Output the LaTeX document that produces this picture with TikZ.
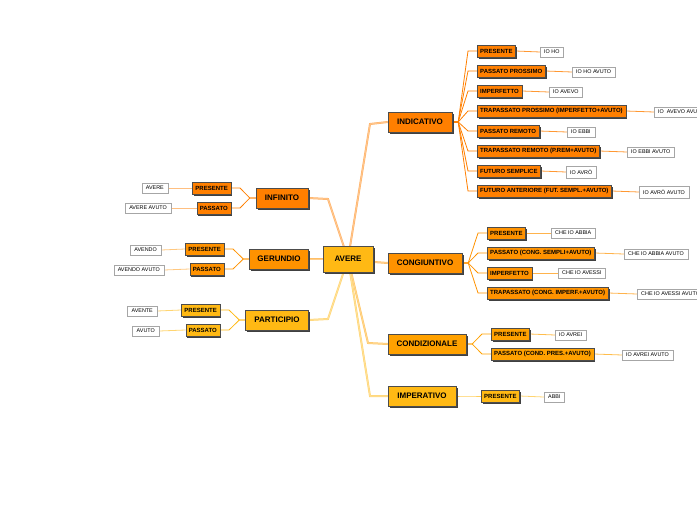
\documentclass[tikz,border=0pt]{standalone}
\usepackage{fontspec}
\setmainfont{Liberation Sans}
\usetikzlibrary{shadows,calc,backgrounds}
\definecolor{cA}{HTML}{FF7F00}
\definecolor{cB}{HTML}{FF9200}
\definecolor{cC}{HTML}{FFA100}
\definecolor{cD}{HTML}{FFB914}
\tikzset{
 x=1pt,y=-1pt,
 base/.style={draw=black!70,line width=0.4pt,drop shadow={shadow xshift=1.5pt,shadow yshift=-1.5pt,fill=black!75,opacity=1},inner sep=0pt},
 cat/.style={base,minimum height=20pt,font=\fontsize{8}{9}\selectfont\bfseries,inner xsep=7pt},
 sub/.style={base,minimum height=12pt,font=\fontsize{6}{7}\selectfont\bfseries,inner xsep=3pt,anchor=west},
 leaf/.style={draw=gray!70,fill=white,minimum height=10pt,inner xsep=4pt,font=\fontsize{5.4}{6}\selectfont,anchor=west},
 link/.style={line width=0.8pt},
 trunk/.style={double=#1!45,double distance=1pt,draw=#1!60,line width=0.5pt},
}
\newcommand{\br}[3]{\draw[link,#3] (#1.east) -- ++(6,0) -- ($(#2.west)+(-9,0)$) -- (#2.west);}
\newcommand{\bl}[3]{\draw[link,#3] (#1.west) -- ++(-6,0) -- ($(#2.east)+(9,0)$) -- (#2.east);}
\newcommand{\lf}[3]{\draw[link,#3] (#1.east) -- (#2.west);}
\newcommand{\lfl}[3]{\draw[link,#3] (#1.west) -- (#2.east);}
\begin{document}
\begin{tikzpicture}
\useasboundingbox (0,0) rectangle (697,520);
\node[cat,fill=cD,minimum width=50pt,minimum height=26pt] (avere) at (348,259) {AVERE};
\node[cat,fill=cA,minimum width=64pt] (ind) at (420,122) {INDICATIVO};
\node[cat,fill=cB,minimum width=74pt] (cong) at (425,263) {CONGIUNTIVO};
\node[cat,fill=cC,minimum width=78pt] (cond) at (427,344) {CONDIZIONALE};
\node[cat,fill=cD,minimum width=68pt] (imp) at (422,396) {IMPERATIVO};
\node[cat,fill=cA,minimum width=52pt] (inf) at (282,198) {INFINITO};
\node[cat,fill=cB,minimum width=59pt] (ger) at (279,259) {GERUNDIO};
\node[cat,fill=cD,minimum width=63pt] (par) at (277,320) {PARTICIPIO};
% indicativo
\node[sub,fill=cA] (i1) at (477,51) {PRESENTE};
\node[sub,fill=cA] (i2) at (477,71) {PASSATO PROSSIMO};
\node[sub,fill=cA] (i3) at (477,91) {IMPERFETTO};
\node[sub,fill=cA] (i4) at (477,111) {TRAPASSATO PROSSIMO (IMPERFETTO+AVUTO)};
\node[sub,fill=cA] (i5) at (477,131) {PASSATO REMOTO};
\node[sub,fill=cA] (i6) at (477,151) {TRAPASSATO REMOTO (P.REM+AVUTO)};
\node[sub,fill=cA] (i7) at (477,171) {FUTURO SEMPLICE};
\node[sub,fill=cA] (i8) at (477,191) {FUTURO ANTERIORE (FUT. SEMPL.+AVUTO)};
\node[leaf] (l1) at (540,52) {IO HO};
\node[leaf] (l2) at (572,72) {IO HO AVUTO};
\node[leaf] (l3) at (549,92) {IO AVEVO};
\node[leaf] (l4) at (654,112) {IO\ \ AVEVO AVUTO};
\node[leaf] (l5) at (567,132) {IO EBBI};
\node[leaf] (l6) at (627,152) {IO EBBI AVUTO};
\node[leaf] (l7) at (566,172) {IO AVRÒ};
\node[leaf] (l8) at (639,192) {IO AVRÒ AVUTO};
% congiuntivo
\node[sub,fill=cB] (c1) at (487,233) {PRESENTE};
\node[sub,fill=cB] (c2) at (487,253) {PASSATO (CONG. SEMPLI+AVUTO)};
\node[sub,fill=cB] (c3) at (487,273) {IMPERFETTO};
\node[sub,fill=cB] (c4) at (487,293) {TRAPASSATO (CONG. IMPERF.+AVUTO)};
\node[leaf] (m1) at (551,233) {CHE IO ABBIA};
\node[leaf] (m2) at (624,254) {CHE IO ABBIA AVUTO};
\node[leaf] (m3) at (558,273) {CHE IO AVESSI};
\node[leaf] (m4) at (637,294) {CHE IO AVESSI AVUTO};
% condizionale
\node[sub,fill=cC] (d1) at (491,334) {PRESENTE};
\node[sub,fill=cC] (d2) at (491,354) {PASSATO (COND. PRES.+AVUTO)};
\node[leaf] (n1) at (555,335) {IO AVREI};
\node[leaf] (n2) at (622,355) {IO AVREI AVUTO};
% imperativo
\node[sub,fill=cD] (e1) at (481,396) {PRESENTE};
\node[leaf] (o1) at (544,397) {ABBI};
% left
\node[sub,fill=cA,anchor=east] (f1) at (231,188) {PRESENTE};
\node[sub,fill=cA,anchor=east] (f2) at (231,208) {PASSATO};
\node[leaf,anchor=east] (p1) at (168,188) {AVERE};
\node[leaf,anchor=east] (p2) at (171,208) {AVERE AVUTO};
\node[sub,fill=cB,anchor=east] (g1) at (224,249) {PRESENTE};
\node[sub,fill=cB,anchor=east] (g2) at (224,269) {PASSATO};
\node[leaf,anchor=east] (q1) at (161,250) {AVENDO};
\node[leaf,anchor=east] (q2) at (164,270) {AVENDO AVUTO};
\node[sub,fill=cD,anchor=east] (h1) at (220,310) {PRESENTE};
\node[sub,fill=cD,anchor=east] (h2) at (220,330) {PASSATO};
\node[leaf,anchor=east] (r1) at (157,311) {AVENTE};
\node[leaf,anchor=east] (r2) at (159,331) {AVUTO};
\begin{pgfonlayer}{background}
\draw[trunk=cA] (avere.center) -- (370,124) -- (ind.west);
\draw[trunk=cB] (avere.center) -- (374,262) -- (cong.west);
\draw[trunk=cC] (avere.center) -- (368,343) -- (cond.west);
\draw[trunk=cD] (avere.center) -- (370,396) -- (imp.west);
\draw[trunk=cA] (avere.center) -- (328,199) -- (inf.east);
\draw[trunk=cB] (avere.center) -- (ger.east);
\draw[trunk=cD] (avere.center) -- (328,319) -- (par.east);
\foreach \s in {i1,i2,i3,i4,i5,i6,i7,i8} {\br{ind}{\s}{cA}}
\foreach \s in {c1,c2,c3,c4} {\br{cong}{\s}{cB}}
\foreach \s in {d1,d2} {\br{cond}{\s}{cC}}
\br{imp}{e1}{cD!70}
\foreach \s in {f1,f2} {\bl{inf}{\s}{cA}}
\foreach \s in {g1,g2} {\bl{ger}{\s}{cB}}
\foreach \s in {h1,h2} {\bl{par}{\s}{cD}}
\foreach \a/\b in {i1/l1,i2/l2,i3/l3,i4/l4,i5/l5,i6/l6,i7/l7,i8/l8} {\lf{\a}{\b}{cA!80}}
\foreach \a/\b in {c1/m1,c2/m2,c3/m3,c4/m4} {\lf{\a}{\b}{cB!70}}
\foreach \a/\b in {d1/n1,d2/n2} {\lf{\a}{\b}{cC!70}}
\lf{e1}{o1}{cD!60}
\foreach \a/\b in {f1/p1,f2/p2} {\lfl{\a}{\b}{cA!50}}
\foreach \a/\b in {g1/q1,g2/q2} {\lfl{\a}{\b}{cB!50}}
\foreach \a/\b in {h1/r1,h2/r2} {\lfl{\a}{\b}{cD!60}}
\end{pgfonlayer}
\end{tikzpicture}
\end{document}
